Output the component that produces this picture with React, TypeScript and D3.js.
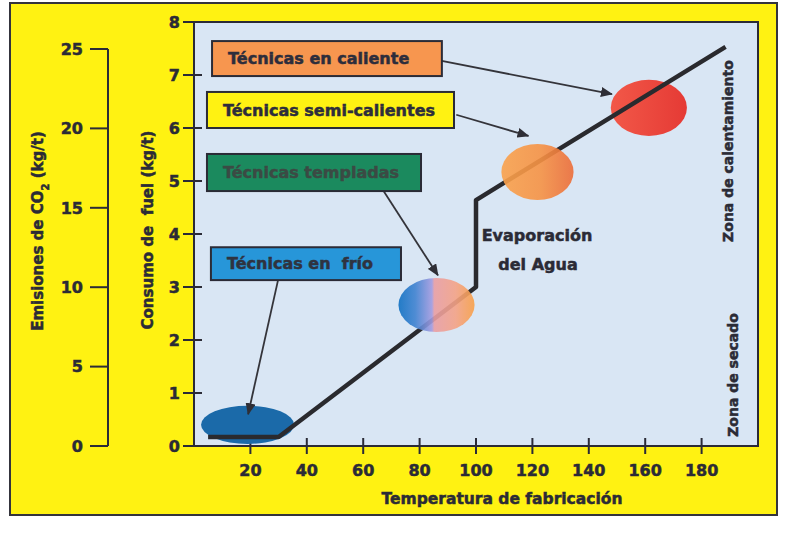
import React from 'react';
import * as d3 from 'd3';

// Axis ticks
const tempTicks = [20, 40, 60, 80, 100, 120, 140, 160, 180];
const fuelTicks = [0, 1, 2, 3, 4, 5, 6, 7, 8];
const co2Ticks = [0, 5, 10, 15, 20, 25];

// Fuel consumption curve (temperature °C -> kg/t)
const curveTemp = [5, 30, 100, 100, 188.5];
const curveFuel = [0.17, 0.17, 3.0, 4.64, 7.53];

// Technique zones (ellipses): temperature / fuel ranges
const techLabels = ['Técnicas en  frío', 'Técnicas templadas', 'Técnicas semi-calientes', 'Técnicas en caliente'];
const techTempLow = [2.5, 72.5, 109, 147.8];
const techTempHigh = [35.5, 99.5, 134.6, 174.8];
const techFuelLow = [0.04, 2.15, 4.64, 5.85];
const techFuelHigh = [0.76, 3.17, 5.7, 6.91];

// Callout boxes and arrows, in chart units (temp, fuel)
const calloutBoxes = [
  { x0: 6.0, x1: 73.4, top: 3.75, bottom: 3.13, fill: '#2796d9', text: '#2f3340' },
  { x0: 4.6, x1: 80.5, top: 5.51, bottom: 4.81, fill: '#1b8a5e', text: '#3b4a44' },
  { x0: 4.6, x1: 92.2, top: 6.68, bottom: 6.0, fill: '#fff212', text: '#2d2d3c' },
  { x0: 6.4, x1: 87.9, top: 7.64, bottom: 6.98, fill: '#f7964f', text: '#2d2d3c' },
];
const arrowFrom = [[29.8, 3.13], [67.0, 4.83], [93.0, 6.25], [86.5, 7.28]];
const arrowTo = [[19.2, 0.6], [86.5, 3.22], [118.6, 5.85], [148.2, 6.64]];

const ellipseFills = ['#1b6aa9', 'url(#gTempl)', 'url(#gSemi)', 'url(#gCal)'];
const ellipseOverLine = [false, true, true, false];

const W = 794;
const H = 536;
const FONT = '"DejaVu Sans", Verdana, sans-serif';
const INK = '#2b2b36';

const x = d3.scaleLinear().domain([0, 200]).range([194, 758]);
const yFuel = d3.scaleLinear().domain([0, 8]).range([446, 22]);
const yCo2 = d3.scaleLinear().domain([0, 25]).range([446, 49]);

const curveLine = d3.line<number>()
  .x((d, i) => x(curveTemp[i]))
  .y((d, i) => yFuel(curveFuel[i]));

const Ellipse = ({ i }: { i: number }) => {
  const cx = (x(techTempLow[i]) + x(techTempHigh[i])) / 2;
  const cy = (yFuel(techFuelLow[i]) + yFuel(techFuelHigh[i])) / 2;
  const rx = (x(techTempHigh[i]) - x(techTempLow[i])) / 2;
  const ry = (yFuel(techFuelLow[i]) - yFuel(techFuelHigh[i])) / 2;
  return (
    <ellipse
      cx={cx}
      cy={cy}
      rx={rx}
      ry={ry}
      fill={ellipseFills[i]}
      opacity={ellipseOverLine[i] ? 0.9 : 1}
    />
  );
};

export default function App() {
  const plotLeft = x(0);
  const plotRight = x(200);
  const plotTop = yFuel(8);
  const plotBottom = yFuel(0);
  const co2X = 108;

  return (
    <svg
      width={W}
      height={H}
      style={{ position: 'absolute', left: 0, top: 0, background: '#fff' }}
      fontFamily={FONT}
      fontWeight="bold"
    >
      <defs>
        <linearGradient id="gTempl" x1="0" x2="1" y1="0" y2="0">
          <stop offset="0" stopColor="#0f70c2" />
          <stop offset="0.22" stopColor="#3f82d0" />
          <stop offset="0.44" stopColor="#a39be0" />
          <stop offset="0.47" stopColor="#e99ea4" />
          <stop offset="0.75" stopColor="#f4a286" />
          <stop offset="1" stopColor="#f9a046" />
        </linearGradient>
        <linearGradient id="gSemi" x1="0" x2="1" y1="0" y2="0">
          <stop offset="0" stopColor="#faa24c" />
          <stop offset="0.55" stopColor="#f69244" />
          <stop offset="1" stopColor="#ec6c38" />
        </linearGradient>
        <linearGradient id="gCal" x1="0" x2="1" y1="0" y2="0">
          <stop offset="0" stopColor="#f25848" />
          <stop offset="1" stopColor="#e53a35" />
        </linearGradient>
        <marker id="arrowHead" markerUnits="userSpaceOnUse" markerWidth="12" markerHeight="10"
          refX="11" refY="5" orient="auto">
          <path d="M0,0 L12,5 L0,10 Z" fill="#2f2f36" />
        </marker>
      </defs>

      {/* outer yellow frame */}
      <rect x={10} y={3} width={767} height={512} fill="#fff212" stroke="#34343c" strokeWidth={2} />

      {/* plot area */}
      <rect x={plotLeft} y={plotTop} width={plotRight - plotLeft} height={plotBottom - plotTop}
        fill="#d9e6f4" stroke={INK} strokeWidth={2} />

      <g stroke={INK} strokeWidth={0.5}>
        {/* fuel axis */}
        {fuelTicks.map(t => (
          <g key={`f${t}`}>
            <line x1={plotLeft - 11} x2={plotLeft + 8} y1={yFuel(t)} y2={yFuel(t)} stroke={INK} strokeWidth={2} />
            <text x={180} y={yFuel(t)} dy="0.36em" textAnchor="end" fontSize={16} fill={INK}>{t}</text>
          </g>
        ))}

        {/* CO2 axis */}
        <line x1={co2X} x2={co2X} y1={yCo2(25)} y2={yCo2(0)} stroke={INK} strokeWidth={2} />
        {co2Ticks.map(t => (
          <g key={`c${t}`}>
            <line x1={co2X - 18} x2={co2X} y1={yCo2(t)} y2={yCo2(t)} stroke={INK} strokeWidth={2} />
            <text x={83} y={yCo2(t)} dy="0.36em" textAnchor="end" fontSize={16} fill={INK}>{t}</text>
          </g>
        ))}

        {/* temperature axis */}
        {tempTicks.map(t => (
          <g key={`t${t}`}>
            <line x1={x(t)} x2={x(t)} y1={plotBottom - 8} y2={plotBottom + 8} stroke={INK} strokeWidth={2} />
            <text x={x(t)} y={476} textAnchor="middle" fontSize={16} fill={INK}>{t}</text>
          </g>
        ))}
        <text x={502} y={504} textAnchor="middle" fontSize={15.5} fill={INK}>Temperatura de fabricación</text>

        {/* vertical axis titles */}
        <text transform="translate(38,231) rotate(-90)" textAnchor="middle" dy="0.36em" fontSize={15} fill={INK}>
          Emisiones de CO<tspan baselineShift="sub" fontSize={10}>2</tspan> (kg/t)
        </text>
        <text transform="translate(148,230) rotate(-90)" textAnchor="middle" dy="0.36em" fontSize={15} fill={INK}
          style={{ whiteSpace: 'pre' }}>
          {'Consumo de  fuel (kg/t)'}
        </text>
      </g>

      {/* ellipses under the curve */}
      {techLabels.map((_, i) => (ellipseOverLine[i] ? null : <Ellipse key={`eu${i}`} i={i} />))}

      {/* fuel curve */}
      <path d={curveLine(curveTemp) || ''} fill="none" stroke="#2a2a2e" strokeWidth={4.5} strokeLinejoin="round" />

      {/* ellipses over the curve */}
      {techLabels.map((_, i) => (ellipseOverLine[i] ? <Ellipse key={`eo${i}`} i={i} /> : null))}

      {/* callouts */}
      {techLabels.map((label, i) => {
        const b = calloutBoxes[i];
        const bx = x(b.x0);
        const by = yFuel(b.top);
        return (
          <g key={`b${i}`}>
            <line
              x1={x(arrowFrom[i][0])} y1={yFuel(arrowFrom[i][1])}
              x2={x(arrowTo[i][0])} y2={yFuel(arrowTo[i][1])}
              stroke="#34343a" strokeWidth={1.8} markerEnd="url(#arrowHead)"
            />
            <rect x={bx} y={by} width={x(b.x1) - bx} height={yFuel(b.bottom) - by}
              fill={b.fill} stroke={INK} strokeWidth={2} />
            <text x={bx + 16} y={(by + yFuel(b.bottom)) / 2} dy="0.36em" fontSize={16} fill={b.text}
              stroke={b.text} strokeWidth={0.5} style={{ whiteSpace: 'pre' }}>
              {label}
            </text>
          </g>
        );
      })}

      {/* zone annotations */}
      <g stroke={INK} strokeWidth={0.5} fill={INK}>
        <text x={537} y={241} textAnchor="middle" fontSize={16}>Evaporación</text>
        <text x={538} y={270} textAnchor="middle" fontSize={16}>del Agua</text>
        <text transform="translate(728,151) rotate(-90)" textAnchor="middle" dy="0.36em" fontSize={14}>
          Zona de calentamiento
        </text>
        <text transform="translate(733,375) rotate(-90)" textAnchor="middle" dy="0.36em" fontSize={14}>
          Zona de secado
        </text>
      </g>
    </svg>
  );
}
